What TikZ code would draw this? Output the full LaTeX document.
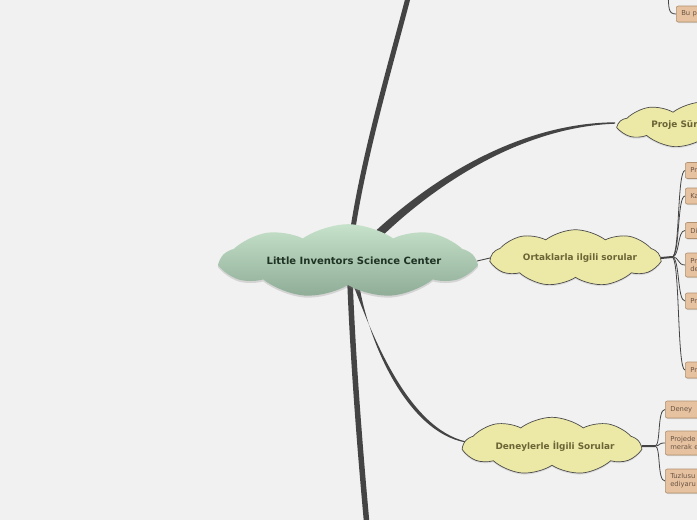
\documentclass[tikz,border=0pt]{standalone}
\usepackage{fontspec}
\setmainfont{DejaVu Sans}
\usetikzlibrary{shapes.symbols,shadows}
\definecolor{bg}{HTML}{F1F1F1}
\definecolor{trunkc}{HTML}{444444}
\definecolor{yel}{HTML}{ECE8A5}
\definecolor{yeltext}{HTML}{6A6436}
\definecolor{leaffill}{HTML}{E7C2A0}
\definecolor{leafdraw}{HTML}{B0906F}
\definecolor{leaftext}{HTML}{6A5646}
\definecolor{rootA}{HTML}{C6E2CA}
\definecolor{rootB}{HTML}{8FAC97}
\definecolor{roottext}{HTML}{1F3324}
\tikzset{
  rootcloud/.style={cloud, cloud puffs=9, cloud puff arc=70, aspect=5.5, draw=none,
    top color=rootA, bottom color=rootB, minimum width=252pt, minimum height=49pt,
    font=\bfseries\fontsize{10}{12}\selectfont, text=roottext, inner sep=0pt,
    drop shadow={opacity=0.25, shadow xshift=0pt, shadow yshift=-2pt}},
  subcloud/.style={cloud, cloud puffs=9, cloud puff arc=75, aspect=4.5, draw=black!70, line width=0.7pt,
    fill=yel, font=\bfseries\fontsize{8.9}{10}\selectfont, text=yeltext, inner sep=0pt,
    drop shadow={opacity=0.2, shadow xshift=0pt, shadow yshift=-1.5pt}},
  leaf/.style={rectangle, rounded corners=2pt, draw=leafdraw, line width=0.6pt, fill=leaffill,
    font=\fontsize{6.8}{8.2}\selectfont, text=leaftext, anchor=west, align=left,
    minimum width=60pt, text width=50pt, inner xsep=4pt, inner ysep=0pt,
    drop shadow={opacity=0.25, shadow xshift=0.5pt, shadow yshift=-1pt}},
  trunk/.style={draw=trunkc, line width=5pt},
  twig/.style={draw=trunkc, line width=0.8pt},
}
\begin{document}
\begin{tikzpicture}[x=1pt,y=-1pt]
\useasboundingbox (0,0) rectangle (697,520);
\clip (0,0) rectangle (697,520);
\fill[bg] (0,0) rectangle (697,520);

% coordinates for free ends
\coordinate (topend) at (409,-6);
\coordinate (botend) at (367,526);
\coordinate (topleafend) at (668,-6);

% main trunks
\draw[trunk] (351,242) .. controls (362,160) and (392,60) .. (topend);
\draw[trunk, line width=5.5pt] (350,282) .. controls (353,360) and (360,450) .. (botend);

% branch to Proje (tapered)
\fill[trunkc] (366,240) .. controls (430,178) and (520,123) .. (615,122.3)
   -- (615,123.7) .. controls (522,127) and (434,184) .. (374,244) -- cycle;
% branch to Deneylerle (tapered)
\fill[trunkc] (353,284) .. controls (372,335) and (408,428) .. (466,441.5)
   -- (466,442.5) .. controls (406,432) and (368,340) .. (359,284) -- cycle;

% sub clouds
\node[subcloud, minimum width=168pt, minimum height=46pt] (proje) at (703,125) {\hspace*{-57pt}Proje Sür};
\node[subcloud, minimum width=166pt, minimum height=39pt] (ortak) at (575.5,258) {\hspace*{9pt}Ortaklarla ilgili sorular};
\node[subcloud, minimum width=176pt, minimum height=39pt] (deney) at (552,446) {\hspace*{6pt}Deneylerle İlgili Sorular};

% root cloud
\node[rootcloud] (root) at (348,261) {\hspace*{12pt}Little Inventors Science Center};

% link root -> ortak
\draw[twig, line width=0.9pt] (root.east) -- (ortak.west);

% leaves of ortak
\node[leaf, minimum height=16pt] (o1) at (685,170.5) {Pr};
\node[leaf, minimum height=16pt] (o2) at (685,196) {Ka};
\node[leaf, minimum height=16pt] (o3) at (685,230.5) {Di};
\node[leaf, minimum height=24pt] (o4) at (685,265) {Pr\\de};
\node[leaf, minimum height=16pt] (o5) at (685,301) {Pr};
\node[leaf, minimum height=16pt] (o6) at (685,370) {Pr};
\coordinate (ofork) at (672,257);
\draw[draw=trunkc, line width=2pt] (ortak.east) -- (ofork);
\foreach \n in {o1,o2,o3,o4,o5,o6}{
  \draw[twig] (ofork) .. controls (680,257) and (677,0|-\n.west) .. (\n.west);
}

% leaves of deney
\node[leaf, minimum height=17pt] (d1) at (665,409.5) {Deney};
\node[leaf, minimum height=24pt] (d2) at (665,443) {Projede\\merak e};
\node[leaf, minimum height=24pt] (d3) at (665,481) {Tuzlusu\\ediyaru};
\coordinate (dfork) at (655,446);
\draw[draw=trunkc, line width=2pt] (deney.east) -- (dfork);
\foreach \n in {d1,d2,d3}{
  \draw[twig] (dfork) .. controls (661,446) and (657,0|-\n.west) .. (\n.west);
}

% top right leaf
\node[leaf, minimum height=16pt] (t1) at (676,14) {Bu p};
\draw[twig] (topleafend) .. controls (669,8) and (668,14) .. (t1.west);
\end{tikzpicture}
\end{document}
